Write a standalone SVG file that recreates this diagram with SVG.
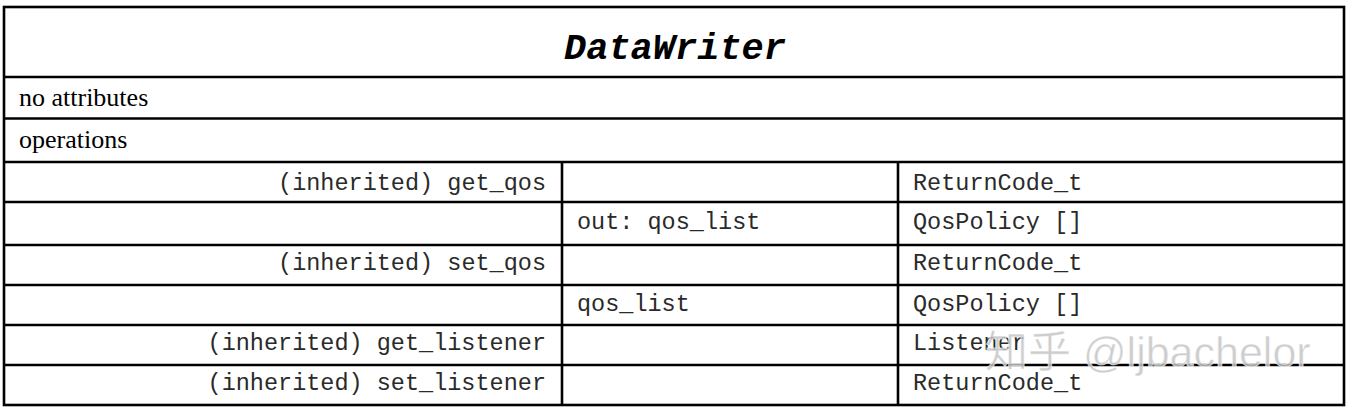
<svg xmlns="http://www.w3.org/2000/svg" width="1350" height="413" viewBox="0 0 1350 413">
<style>
.ln{stroke:#000;stroke-width:2.6;fill:none}
.mono{font-family:"Liberation Mono","Courier New",monospace;font-size:23.5px;fill:#2a2a2a}
.serif{font-family:"Liberation Serif","Times New Roman",serif;font-size:26px;fill:#000}
.title{font-family:"Liberation Mono","Courier New",monospace;font-size:37px;font-weight:bold;font-style:italic;fill:#000}
.end{text-anchor:end}
.wm{font-family:"Liberation Sans","Noto Sans CJK SC",sans-serif;font-size:43px;fill:#c4c4c4;fill-opacity:0.85;stroke:#fff;stroke-width:1;stroke-opacity:0.6}
</style>
<rect width="1350" height="413" fill="#fff"/>
<g id="connectors">
<rect class="ln" x="4" y="7" width="1340" height="398"/>
<line class="ln" x1="4" y1="77" x2="1344" y2="77"/>
<line class="ln" x1="4" y1="118.5" x2="1344" y2="118.5"/>
<line class="ln" x1="4" y1="162" x2="1344" y2="162"/>
<line class="ln" x1="4" y1="202" x2="1344" y2="202"/>
<line class="ln" x1="4" y1="245" x2="1344" y2="245"/>
<line class="ln" x1="4" y1="285" x2="1344" y2="285"/>
<line class="ln" x1="4" y1="325" x2="1344" y2="325"/>
<line class="ln" x1="4" y1="365" x2="1344" y2="365"/>
<line class="ln" x1="562" y1="162" x2="562" y2="405"/>
<line class="ln" x1="898" y1="162" x2="898" y2="405"/>
</g>
<g id="title"><text class="title" x="675" y="59" text-anchor="middle">DataWriter</text></g>
<g id="attributes"><text class="serif" x="19" y="106">no attributes</text></g>
<g id="operations"><text class="serif" x="19" y="148">operations</text></g>
<g id="row1"><text class="mono end" x="546" y="190">(inherited) get_qos</text><text class="mono" x="913" y="190">ReturnCode_t</text></g>
<g id="row2"><text class="mono" x="577" y="229">out: qos_list</text><text class="mono" x="913" y="229">QosPolicy []</text></g>
<g id="row3"><text class="mono end" x="546" y="270">(inherited) set_qos</text><text class="mono" x="913" y="270">ReturnCode_t</text></g>
<g id="row4"><text class="mono" x="577" y="311">qos_list</text><text class="mono" x="913" y="311">QosPolicy []</text></g>
<g id="row5"><text class="mono end" x="546" y="350">(inherited) get_listener</text><text class="mono" x="913" y="350">Listener</text></g>
<g id="row6"><text class="mono end" x="546" y="390">(inherited) set_listener</text><text class="mono" x="913" y="390">ReturnCode_t</text></g>
<g id="watermark"><text class="wm" x="985" y="367">知乎 @ljbachelor</text></g>
</svg>
